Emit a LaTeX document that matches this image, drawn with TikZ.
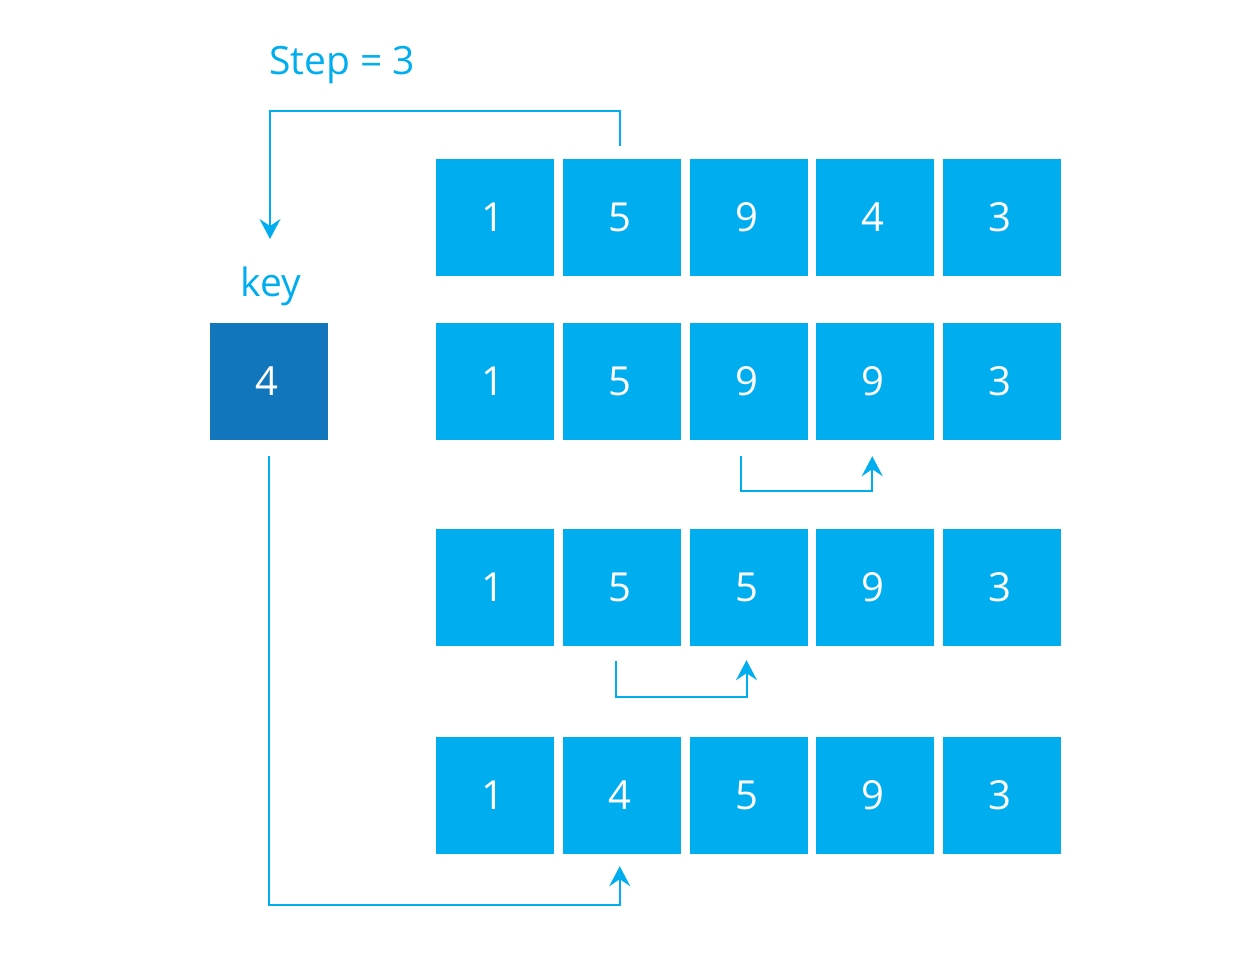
\documentclass[tikz,border=0pt]{standalone}
\usepackage{fontspec}
\setmainfont{Open Sans}
\usetikzlibrary{arrows.meta}
\definecolor{lb}{HTML}{00AEEF}
\definecolor{db}{HTML}{1176BC}
\begin{document}
\begin{tikzpicture}[x=1pt,y=-1pt,
  cell/.style={fill=lb, minimum width=118pt, minimum height=117pt, inner sep=0pt, text=white, font=\fontsize{40}{40}\selectfont},
  keycell/.style={cell, fill=db},
  lbl/.style={text=lb, inner sep=0pt, font=\fontsize{39}{39}\selectfont},
  conn/.style={draw=lb, line width=2pt, -{Stealth[length=20pt,width=21pt,inset=7pt]}}]
\useasboundingbox (0,0) rectangle (1241,971);
\foreach \v [count=\i] in {1,5,9,4,3} \node[cell] (a\i) at ({495+126.75*(\i-1)},217.5) {\hspace*{-4pt}\v};
\foreach \v [count=\i] in {1,5,9,9,3} \node[cell] (b\i) at ({495+126.75*(\i-1)},381.5) {\hspace*{-4pt}\v};
\foreach \v [count=\i] in {1,5,5,9,3} \node[cell] (c\i) at ({495+126.75*(\i-1)},587.5) {\hspace*{-4pt}\v};
\foreach \v [count=\i] in {1,4,5,9,3} \node[cell] (d\i) at ({495+126.75*(\i-1)},795.5) {\hspace*{-4pt}\v};
\node[keycell] (key) at (269,381.5) {\hspace*{-4pt}4};
\node[lbl] (keylbl) at (271,286) {key};
\node[lbl] (step) at (342,65) {Step = 3};
\coordinate (ktip) at (270,239);
\draw[conn] ([xshift=-2pt,yshift=13pt]a2.north) -- ++(0,-35) -| (ktip);
\draw[conn] ([xshift=-8pt,yshift=-16pt]b3.south) -- ++(0,35) -| ([xshift=-3pt,yshift=-16pt]b4.south);
\draw[conn] ([xshift=-6pt,yshift=-15pt]c2.south) -- ++(0,36) -| ([xshift=-2pt,yshift=-14pt]c3.south);
\draw[conn] ([yshift=-16pt]key.south) -- ++(0,449) -| ([xshift=-2pt,yshift=-12pt]d2.south);
\end{tikzpicture}
\end{document}
